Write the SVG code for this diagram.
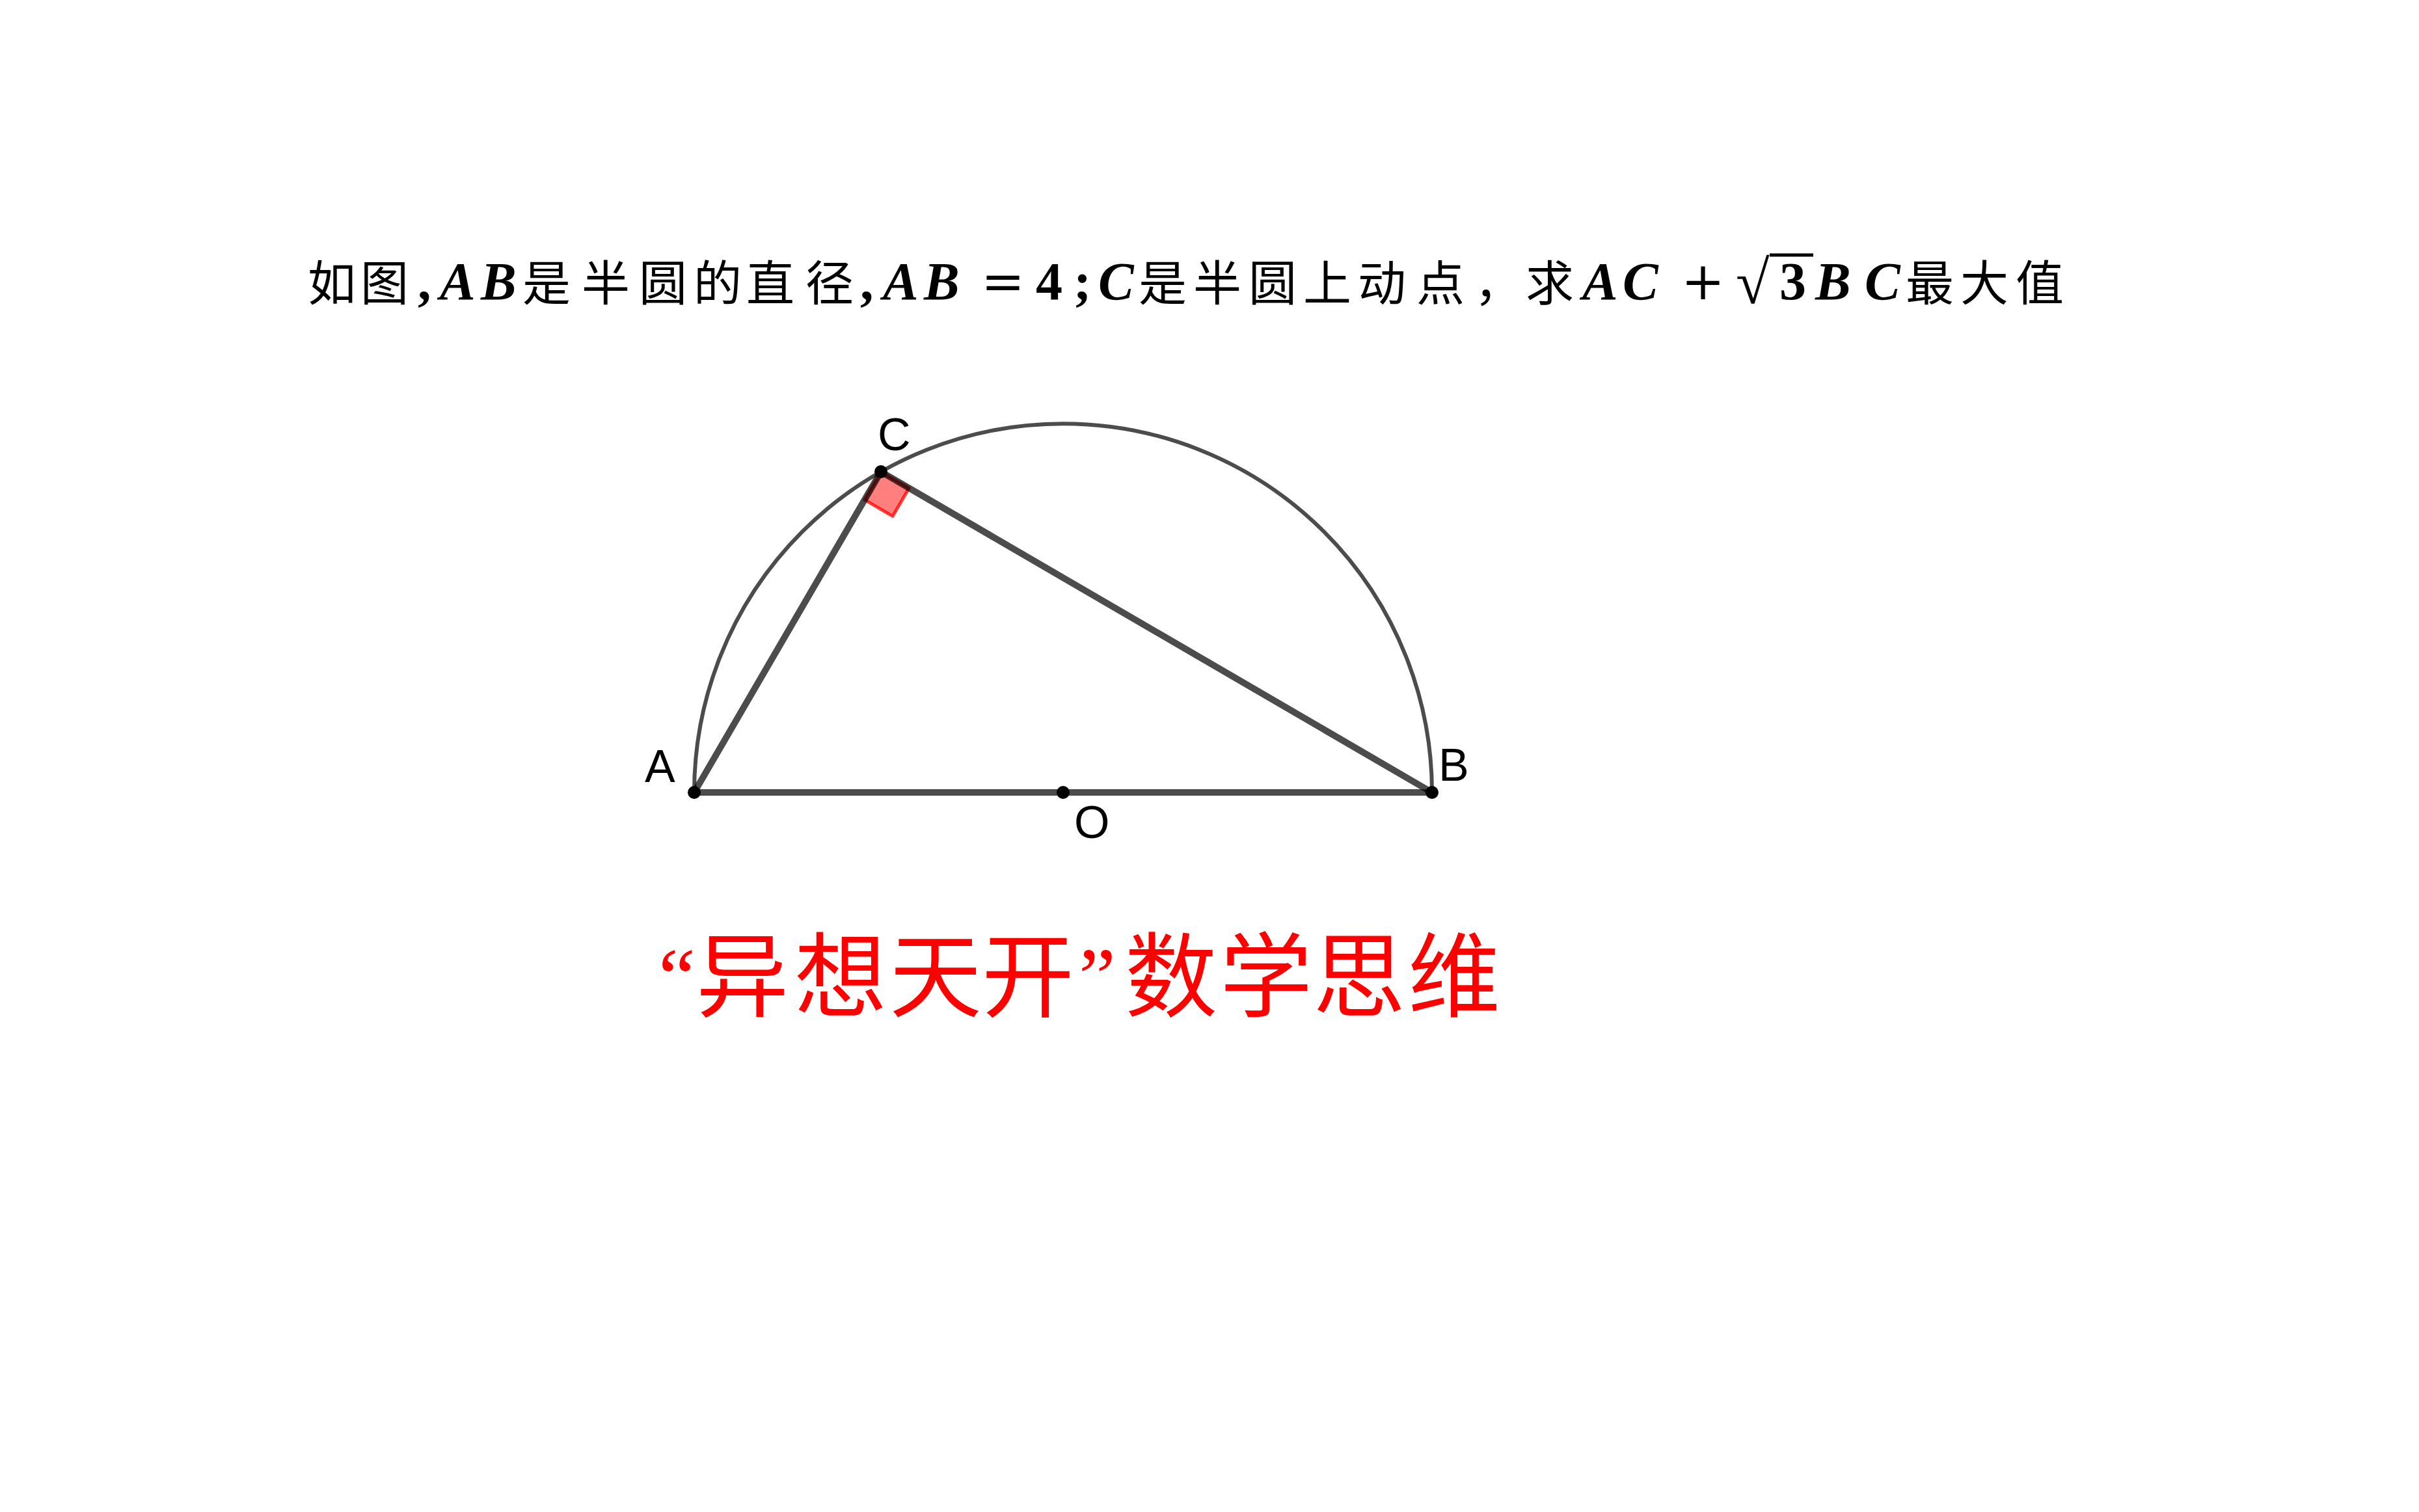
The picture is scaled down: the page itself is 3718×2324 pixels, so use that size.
<svg xmlns="http://www.w3.org/2000/svg" width="3718" height="2324" viewBox="0 0 3718 2324">
<style>
.cjk{font-family:"Noto Sans CJK SC","Noto Sans CJK TC",sans-serif;font-size:74px;fill:#000}
.m{font-family:"Liberation Serif",serif;font-size:82px;font-weight:bold;fill:#000}
.mi{font-style:italic}
.op{font-family:"DejaVu Serif",serif;font-size:80px;fill:#000}
.lbl{font-family:"Liberation Sans",Arial,sans-serif;font-size:70px;fill:#000}
.red{font-family:"Noto Sans CJK SC","Noto Sans CJK TC",sans-serif;font-size:142px;fill:#ff0000}
.q{font-family:"Liberation Serif",serif;font-size:128px;fill:#ff0000}
.seg{stroke:#000;stroke-opacity:0.7;stroke-width:10;fill:none;stroke-linecap:round}
.arc{stroke:#000;stroke-opacity:0.7;stroke-width:6;fill:none}
.pt{fill:#000}
</style>
<rect width="3718" height="2324" fill="#fff"/>
<g id="title">
<text class="cjk" x="473 554" y="462">如图</text>
<text class="m" x="642" y="460">,</text>
<text class="m mi" x="676 739" y="460">AB</text>
<text class="cjk" x="803 894 982 1066 1147 1238" y="462">是半圆的直径</text>
<text class="m" x="1322" y="460">,</text>
<text class="m mi" x="1357 1420" y="460">AB</text>
<text class="op" x="1508" y="460">=</text>
<text class="m" x="1592 1650" y="460">4;</text>
<text class="m mi" x="1688" y="460">C</text>
<text class="cjk" x="1750 1834 1919 2003 2087 2177 2266 2345" y="462">是半圆上动点，求</text>
<text class="m mi" x="2432 2494" y="460">AC</text>
<text class="op" x="2584" y="460">+</text>
<text x="2668" y="466" style="font-family:'Liberation Serif',serif;font-size:94px;fill:#000">√</text>
<line x1="2720" y1="392" x2="2787" y2="392" stroke="#000" stroke-width="5"/>
<text class="m" x="2735" y="460">3</text>
<text class="m mi" x="2790 2866" y="460">BC</text>
<text class="cjk" x="2929 3013 3098" y="462">最大值</text>
</g>
<g id="semicircle">
<path class="arc" d="M 1067 1218 A 567 567 0 0 1 2201 1218"/>
</g>
<g id="right-angle">
<polygon points="1354,725 1397.2,750.2 1372,793.4 1328.8,768.2" fill="#ff0000" fill-opacity="0.5" stroke="#ff0000" stroke-opacity="0.75" stroke-width="5" stroke-linejoin="round"/>
</g>
<g id="connectors">
<line class="seg" x1="1067" y1="1218" x2="2201" y2="1218"/>
<line class="seg" x1="1067" y1="1218" x2="1354" y2="725"/>
<line class="seg" x1="1354" y1="725" x2="2201" y2="1218"/>
</g>
<g id="point-A"><circle class="pt" cx="1067" cy="1218" r="10"/><text class="lbl" x="991" y="1202">A</text></g>
<g id="point-B"><circle class="pt" cx="2201" cy="1218" r="10"/><text class="lbl" x="2211" y="1200">B</text></g>
<g id="point-C"><circle class="pt" cx="1354" cy="725" r="10"/><text class="lbl" x="1349" y="692">C</text></g>
<g id="point-O"><circle class="pt" cx="1634" cy="1218" r="10"/><text class="lbl" x="1651" y="1288">O</text></g>
<g id="caption">
<text class="q" x="1012" y="1545">“</text>
<text class="red" x="1070 1221 1367 1509" y="1552">异想天开</text>
<text class="q" x="1658" y="1545">”</text>
<text class="red" x="1729 1875 2018 2164" y="1552">数学思维</text>
</g>
</svg>
